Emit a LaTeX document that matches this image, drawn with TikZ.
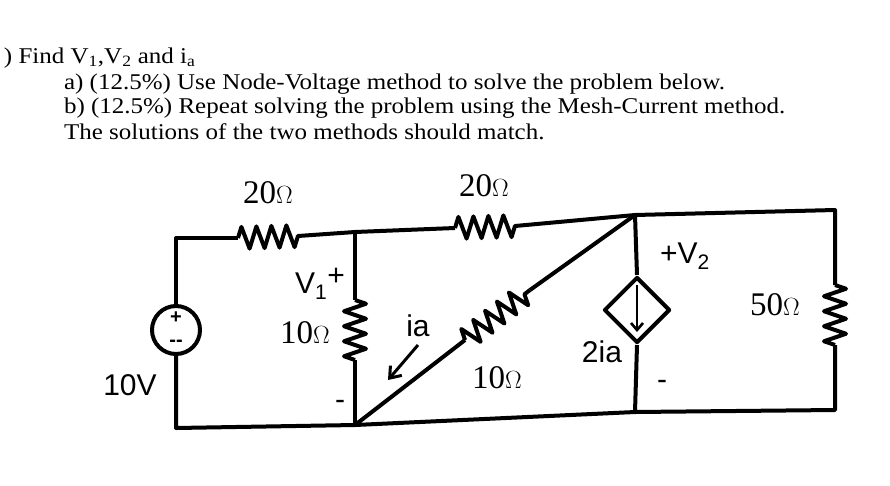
\documentclass[tikz,border=0pt]{standalone}
\usepackage{fontspec}
\setmainfont{Liberation Serif}
\newfontfamily\lsans{Liberation Sans}
\usetikzlibrary{decorations.pathmorphing,arrows.meta,shapes.geometric}
\begin{document}
\begin{tikzpicture}[x=1pt,y=-1pt,line width=4pt,line join=round,
  res/.style={decorate,decoration={zigzag,segment length=15pt,amplitude=11pt}},
  txt/.style={font=\fontsize{25}{28}\selectfont,anchor=west,inner sep=0,yscale=0.9},
  lab/.style={font=\fontsize{33}{34}\selectfont,inner sep=0},
  slab/.style={font=\lsans\fontsize{30}{32}\selectfont,inner sep=0}]
\useasboundingbox[fill=white] (0,0) rectangle (890,485);
% text
\node[txt] (t0) at (2,58) {) Find V\textsubscript{1},V\textsubscript{2} and i\textsubscript{a}};
\node[txt] (t1) at (62,84) {a) (12.5\%) Use Node-Voltage method to solve the problem below.};
\node[txt] (t2) at (62,108) {b) (12.5\%) Repeat solving the problem using the Mesh-Current method.};
\node[txt] (t3) at (62,132) {The solutions of the two methods should match.};
% coordinates
\coordinate (tl) at (176,238);
\coordinate (bl) at (176,428);
\coordinate (n1) at (355,232);
\coordinate (b1) at (355,425);
\coordinate (n2) at (635,215);
\coordinate (tr) at (835,210);
\coordinate (br) at (835,410);
\coordinate (b2) at (635,412);
\node[circle,draw,minimum size=48pt,inner sep=0] (src) at (176,330) {};
\node[font=\lsans\bfseries\fontsize{20}{20}\selectfont,inner sep=0] (sp) at (176,318) {+};
\node[font=\lsans\bfseries\fontsize{20}{20}\selectfont,inner sep=0] (sm) at (176,343) {--};
\node[diamond,draw,minimum size=66pt,inner sep=0] (dep) at (637,310) {};
\draw[-{Straight Barb[length=7pt,width=12pt]},line width=2.6pt] (637,285) -- (637,332);
% wires
\draw (src.north) -- (tl) -- (238,238);
\draw[res] (238,238) -- (298,236);
\draw (298,236) -- (n1) -- (455,228);
\draw[res] (455,228) -- (515,226);
\draw (515,226) -- (n2) -- (tr) -- (835,285);
\draw[res] (835,285) -- (835,345);
\draw (835,345) -- (br) -- (b2) -- (b1) -- (bl) -- (src.south);
\draw (n1) -- (355,300);
\draw[res] (355,300) -- (355,360);
\draw (355,360) -- (b1);
\draw (n2) -- (dep.north);
\draw (dep.south) -- (b2);
\draw (b1) -- (465,340);
\draw[res] (465,340) -- (530,290);
\draw (530,290) -- (n2);
\draw[-{Straight Barb[length=10pt,width=15pt]},line width=3pt] (418,345) -- (388,380);
% labels
\node[slab] (l10v) at (130,385) {10V};
\node[lab] (lr1) at (268,193) {20$\Omega$};
\node[lab] (lr2) at (484,186) {20$\Omega$};
\node[slab] (lv1) at (320,284) {V\textsubscript{1}\raisebox{8pt}{+}};
\node[lab] (lr3) at (305,333) {10$\Omega$};
\node[slab] (lia) at (418,326) {ia};
\node[lab] (lr4) at (497,378) {10$\Omega$};
\node[slab] (l2ia) at (602,352) {2ia};
\node[slab] (lv2) at (685,256) {+V\textsubscript{2}};
\node[lab] (lr5) at (775,305) {50$\Omega$};
\node[slab] (m1) at (340,405) {-};
\node[slab] (m2) at (662,385) {-};
\end{tikzpicture}
\end{document}
